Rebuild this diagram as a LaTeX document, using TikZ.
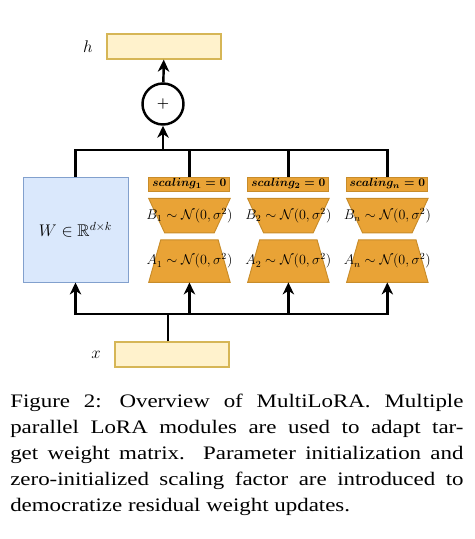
\documentclass[tikz,border=0pt]{standalone}
\usepackage{amsmath, amssymb}
\usepackage{fontspec}
\usepackage{xcolor}
\usepackage{tikz}
\usetikzlibrary{arrows.meta, positioning, calc, backgrounds}

\newfontfamily\capfont{Liberation Serif}

\definecolor{vecfill}{RGB}{255,242,204}
\definecolor{vecdraw}{RGB}{214,182,86}
\definecolor{wfill}{RGB}{218,232,252}
\definecolor{wdraw}{RGB}{130,160,205}
\definecolor{lorafill}{RGB}{233,163,54}
\definecolor{loradraw}{RGB}{200,140,42}

\newcommand{\gauss}[1]{\makebox[0pt]{$#1 \sim \mathcal{N}(0,\sigma^2)$}}

\begin{document}
\begin{tikzpicture}[
        x=0.03cm, y=-0.03cm,
        node distance=0.21cm and 0.51cm,
        wire/.style={line width=2.1pt},
        arrow/.style={wire, -{Stealth[length=3.6mm, width=3.4mm, inset=1.1mm]}},
        vec/.style={rectangle, draw=vecdraw, fill=vecfill, line width=1.1pt, minimum width=3.42cm, minimum height=0.75cm},
        weight/.style={rectangle, draw=wdraw, fill=wfill, line width=0.8pt, minimum width=3.15cm, minimum height=3.15cm, font=\fontsize{14.5}{17}\selectfont},
        scalebox/.style={rectangle, draw=loradraw, fill=lorafill, line width=0.8pt, minimum width=2.43cm, minimum height=0.42cm, inner sep=0pt, font=\fontsize{10.3}{12}\selectfont},
        loraB/.style={rectangle, minimum width=2.43cm, minimum height=1.02cm, inner sep=0pt, font=\fontsize{12}{14}\selectfont},
        loraA/.style={rectangle, minimum width=2.43cm, minimum height=1.26cm, inner sep=0pt, font=\fontsize{12}{14}\selectfont},
        trap/.style={fill=lorafill, draw=loradraw, line width=0.8pt},
        sym/.style={font=\fontsize{15}{18}\selectfont}
    ]
        \useasboundingbox (0,0) rectangle (474,539);

        % 输出与求和
        \node[vec] (hvec) at (164,46.5) {};
        \node[sym, left=0.29cm of hvec] (hlabel) {$h$};
        \node[circle, draw, wire, minimum size=1.23cm, inner sep=0pt, font=\fontsize{13}{13}\selectfont] (plus) at (163,104) {$\boldsymbol{+}$};

        % 冻结权重
        \node[weight] (W) at (75.5,229.5) {$W \in \mathbb{R}^{d\times k}$};

        % 第一列 LoRA
        \node[scalebox, right=0.6cm of W.north east, anchor=north west] (s1) {$\boldsymbol{scaling_1 = 0}$};
        \node[loraB, below=of s1] (B1) {\gauss{B_1}};
        \node[loraA, below=of B1] (A1) {\gauss{A_1}};

        % 第二列 LoRA
        \node[scalebox, right=of s1] (s2) {$\boldsymbol{scaling_2 = 0}$};
        \node[loraB, below=of s2] (B2) {\gauss{B_2}};
        \node[loraA, below=of B2] (A2) {\gauss{A_2}};

        % 第 n 列 LoRA
        \node[scalebox, right=of s2] (sn) {$\boldsymbol{scaling_n = 0}$};
        \node[loraB, below=of sn] (Bn) {\gauss{B_n}};
        \node[loraA, below=of Bn] (An) {\gauss{A_n}};

        % 梯形 (B 上宽下窄, A 上窄下宽)
        \begin{scope}[on background layer]
            \filldraw[trap] (B1.north west) -- (B1.north east) -- ([xshift=-0.48cm]B1.south east) -- ([xshift=0.48cm]B1.south west) -- cycle;
            \filldraw[trap] (B2.north west) -- (B2.north east) -- ([xshift=-0.48cm]B2.south east) -- ([xshift=0.48cm]B2.south west) -- cycle;
            \filldraw[trap] (Bn.north west) -- (Bn.north east) -- ([xshift=-0.48cm]Bn.south east) -- ([xshift=0.48cm]Bn.south west) -- cycle;
            \filldraw[trap] (A1.south west) -- (A1.south east) -- ([xshift=-0.36cm]A1.north east) -- ([xshift=0.36cm]A1.north west) -- cycle;
            \filldraw[trap] (A2.south west) -- (A2.south east) -- ([xshift=-0.36cm]A2.north east) -- ([xshift=0.36cm]A2.north west) -- cycle;
            \filldraw[trap] (An.south west) -- (An.south east) -- ([xshift=-0.36cm]An.north east) -- ([xshift=0.36cm]An.north west) -- cycle;
        \end{scope}

        % 输入
        \node[vec] (xvec) at (172,354.5) {};
        \node[sym, left=0.28cm of xvec] (xlabel) {$x$};

        % 汇线
        \coordinate (topbus) at (163,150);
        \coordinate (botbus) at (168,314);

        % 连接箭头
        \draw[wire] (W.north) |- (topbus) -| (sn.north);
        \draw[wire] (s1.north) -- (s1.north |- topbus);
        \draw[wire] (s2.north) -- (s2.north |- topbus);
        \draw[arrow] (topbus) -- (plus);
        \draw[arrow] (plus) -- (hvec);
        \draw[wire] (botbus |- xvec.north) -- (botbus);
        \draw[arrow] (botbus) -| (W.south);
        \draw[arrow] (botbus) -| (A1.south);
        \draw[arrow] (botbus) -| (A2.south);
        \draw[arrow] (botbus) -| (An.south);

        % 图注
        \node[anchor=north west, inner sep=0pt, transform shape, xscale=1.2, text width=11.33cm, align=justify,
              font=\capfont\fontsize{16.3}{22.3}\selectfont] (caption) at (10,393.5)
            {\hyphenpenalty=10000 Figure 2:\ \,Overview of MultiLoRA. Multiple\linebreak
             parallel LoRA modules are used to adapt tar-\linebreak
             get weight matrix. Parameter initialization and\linebreak
             zero-initialized scaling factor are introduced to\linebreak
             democratize residual weight updates.};
\end{tikzpicture}
\end{document}
